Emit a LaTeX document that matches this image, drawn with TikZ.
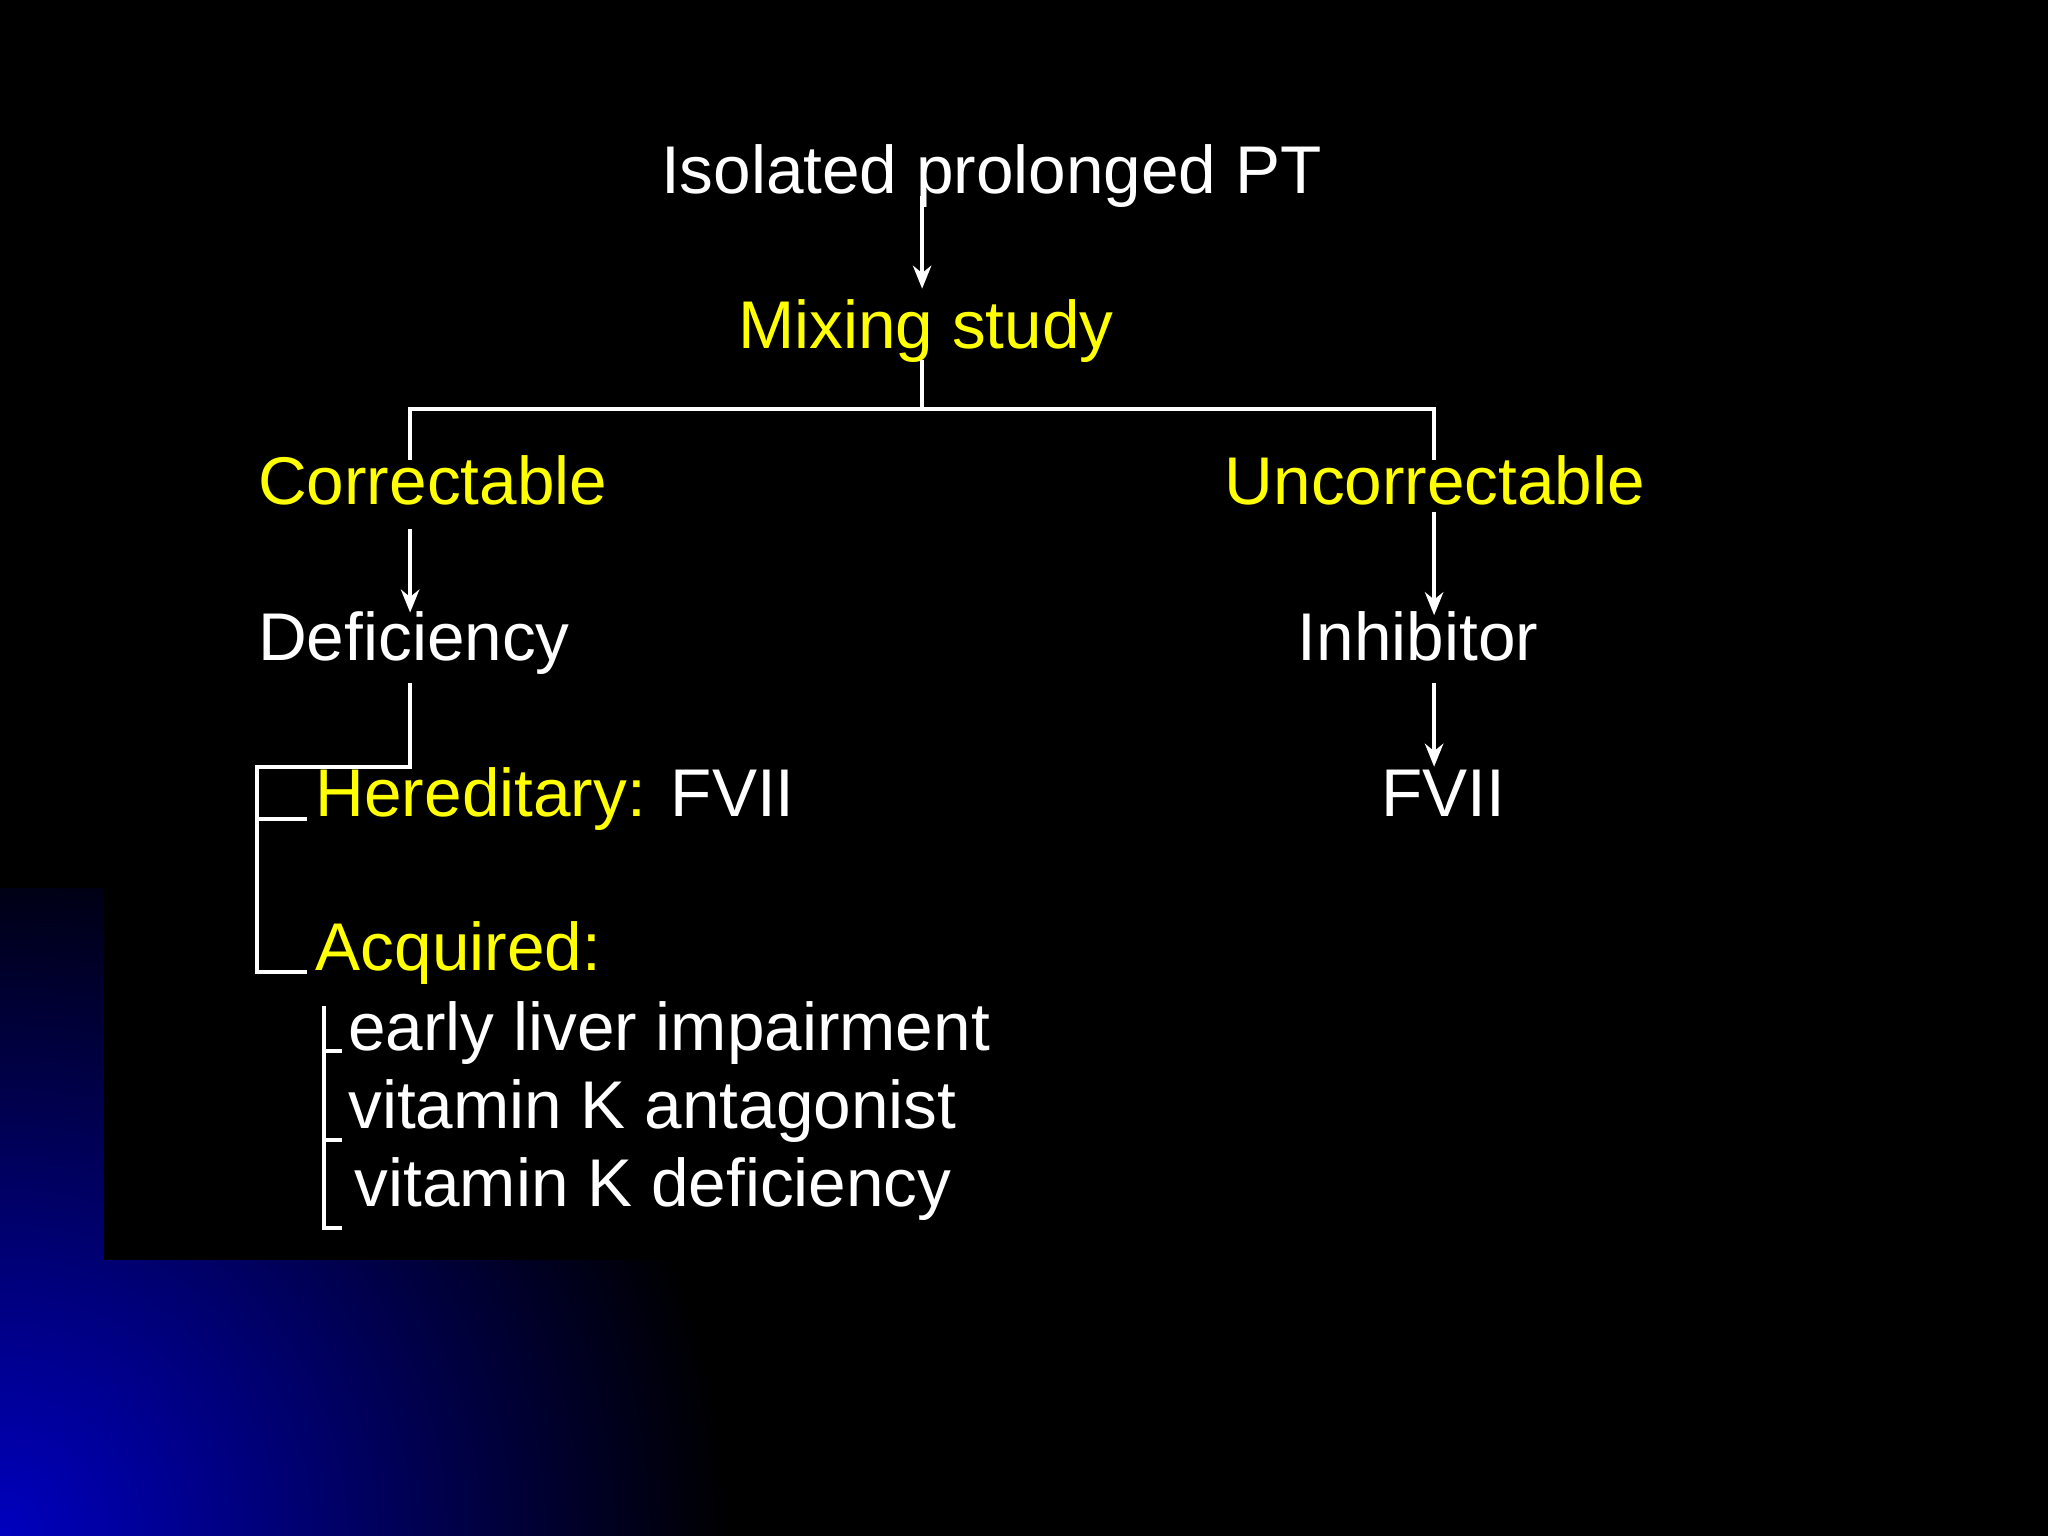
\documentclass[tikz,border=0pt]{standalone}
\usepackage{fontspec}
\setmainfont{Liberation Sans}
\usetikzlibrary{arrows.meta}
\definecolor{ylw}{RGB}{255,255,0}
\begin{document}
\begin{tikzpicture}[x=0.01cm,y=-0.01cm,
  txt/.style={inner sep=0pt,font=\fontsize{14.7pt}{17pt}\selectfont,text=white},
  ytxt/.style={txt,text=ylw},
  ln/.style={draw=white,line width=0.9pt},
  arr/.style={ln,-{Stealth[length=5pt,width=4pt]}}]
\useasboundingbox (0,0) rectangle (1568,1176);
\fill[black] (0,0) rectangle (1568,1176);
\begin{scope}
\clip (0,0) rectangle (1568,1176);
\shade[inner color=blue!75!black,outer color=black] (0,1176) circle (560);
\end{scope}
\fill[black] (80,0) rectangle (1568,965);
\fill[black] (0,0) rectangle (80,680);
% texts
\node[txt,anchor=base] (iso) at (759,148) {Isolated prolonged PT};
\node[ytxt,anchor=base] (mix) at (709,267) {Mixing study};
\node[ytxt,anchor=base west] (cor) at (197,386) {Correctable};
\node[ytxt,anchor=base west] (unc) at (937,386) {Uncorrectable};
\node[txt,anchor=base west] (def) at (197,506) {Deficiency};
\node[txt,anchor=base west] (inh) at (993,506) {Inhibitor};
\node[anchor=base west,txt] (her) at (241,625) {\textcolor{ylw}{Hereditary:} FVII};
\node[txt,anchor=base] (fv) at (1105,625) {FVII};
\node[ytxt,anchor=base west] (acq) at (241,743) {Acquired:};
\node[txt,anchor=base west] (e1) at (266,804) {early liver impairment};
\node[txt,anchor=base west] (e2) at (266,864) {vitamin K antagonist};
\node[txt,anchor=base west] (e3) at (271,924) {vitamin K deficiency};
% connectors
\coordinate (a1) at (706,150); \coordinate (a2) at (706,221);
\draw[arr] (a1) -- (a2);
\coordinate (m1) at (706,276); \coordinate (m2) at (706,313);
\coordinate (l1) at (314,313); \coordinate (r1) at (1098,313);
\coordinate (l2) at (314,352); \coordinate (r2) at (1098,352);
\draw[ln] (m1) -- (m2) (l2) -- (l1) -- (r1) -- (r2);
\coordinate (c1) at (314,405); \coordinate (c2) at (314,469);
\draw[arr] (c1) -- (c2);
\coordinate (u1) at (1098,392); \coordinate (u2) at (1098,471);
\draw[arr] (u1) -- (u2);
\coordinate (i1) at (1098,523); \coordinate (i2) at (1098,587);
\draw[arr] (i1) -- (i2);
\coordinate (d1) at (314,523); \coordinate (d2) at (314,587);
\coordinate (d3) at (197,587); \coordinate (d4) at (197,744);
\coordinate (h1) at (197,627); \coordinate (h2) at (235,627);
\coordinate (q2) at (235,744);
\draw[ln] (d1) -- (d2) -- (d3) -- (d4) -- (q2);
\draw[ln] (h1) -- (h2);
\coordinate (b1) at (248,770); \coordinate (b2) at (248,940);
\coordinate (t1) at (262,805); \coordinate (t2) at (262,873); \coordinate (t3) at (262,940);
\draw[ln] (b1) -- (b2) -- (t3);
\draw[ln] (t1 -| b1) -- (t1);
\draw[ln] (t2 -| b1) -- (t2);
\end{tikzpicture}
\end{document}
